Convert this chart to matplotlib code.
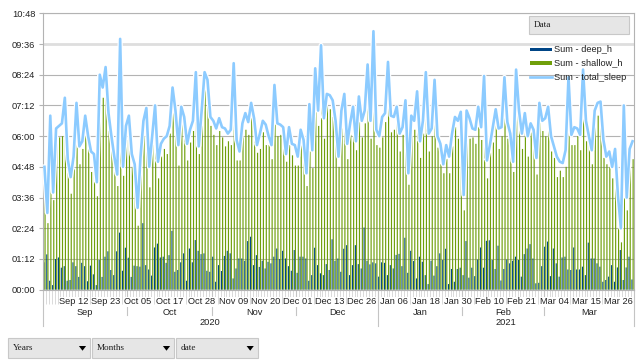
import matplotlib
matplotlib.use("Agg")
import matplotlib.pyplot as plt
import numpy as np
import pandas as pd
from matplotlib.transforms import blended_transform_factory
from matplotlib.patches import Rectangle, Polygon
from matplotlib.lines import Line2D
from matplotlib.collections import LineCollection

# ---------------- data ----------------
start_date = "2020-09-02"
end_date = "2021-03-31"
missing_dates = ["2020-10-01", "2020-10-10", "2020-11-03", "2020-12-07",
                 "2020-12-17", "2020-12-21", "2021-01-12", "2021-01-24"]

deep_h = [
    1.07, 1.38, 0.35, 0.18, 1.2, 1.26, 0.86, 0.92, 0.35, 0.38,
    1.07, 0.92, 0.5, 1.05, 0.92, 0.33, 0.94, 0.6, 0.18, 1.16,
    0.5, 1.29, 1.5, 0.77, 0.57, 1.5, 2.23, 0.74, 1.64, 1.25,
    0.5, 0.94, 0.92, 0.9, 2.6, 0.96, 0.79, 0.55, 1.65, 1.8,
    1.26, 1.29, 1.05, 1.35, 2.3, 0.7, 0.77, 1.07, 1.42, 0.35,
    1.61, 1.07, 1.94, 1.52, 1.39, 1.42, 0.74, 0.7, 1.29, 0.31,
    0.96, 0.73, 1.32, 1.52, 1.42, 0.44, 0.83, 1.22, 1.22, 1.13,
    1.9, 2.07, 0.96, 1.35, 0.89, 1.13, 0.83, 1.09, 1.03, 1.29,
    1.61, 1.2, 1.52, 1.22, 0.92, 0.74, 1.55, 0.66, 1.29, 1.29,
    1.22, 0.35, 0.57, 1.64, 0.96, 0.64, 0.57, 1.0, 0.77, 1.97,
    1.13, 1.22, 0.7, 1.6, 1.74, 0.57, 0.96, 1.74, 1.0, 0.83,
    2.43, 1.13, 0.99, 1.07, 1.03, 0.51, 1.07, 1.05, 0.57, 0.96,
    0.83, 1.36, 1.4, 0.92, 2.03, 0.66, 1.52, 1.12, 0.44, 1.29,
    1.09, 0.57, 0.22, 1.13, 0.55, 0.92, 1.42, 1.16, 1.6, 0.22,
    0.81, 0.31, 0.81, 0.86, 0.57, 1.9, 0.47, 0.86, 0.53, 1.18,
    1.65, 0.86, 1.91, 1.93, 1.16, 0.81, 1.72, 0.36, 0.81, 1.18,
    1.03, 1.13, 1.29, 1.16, 0.51, 1.39, 1.61, 1.78, 1.22, 0.25,
    0.27, 0.92, 1.68, 1.88, 0.53, 1.61, 1.03, 0.51, 1.26, 1.29,
    0.79, 0.77, 1.65, 0.79, 0.79, 0.9, 0.57, 1.84, 1.22, 1.22,
    1.03, 0.9, 0.31, 0.38, 0.51, 0.96, 0.31, 0.87, 1.55, 0.38,
    0.87, 1.29, 0.4,
]

shallow_h = [
    4.3, 2.6, 6.1, 3.5, 5.7, 5.95, 6.0, 6.9, 4.55, 3.75,
    4.7, 6.6, 4.9, 5.5, 6.2, 5.55, 4.6, 4.95, 3.65, 7.6,
    7.5, 7.7, 6.2, 5.7, 4.6, 4.05, 8.2, 4.45, 5.85, 6.15,
    4.8, 4.5, 2.5, 4.9, 6.0, 6.65, 4.0, 5.65, 6.65, 4.35,
    5.2, 5.5, 5.3, 6.1, 7.1, 6.55, 4.85, 6.8, 6.2, 5.05,
    5.75, 6.2, 7.5, 5.3, 6.4, 7.8, 7.4, 6.4, 6.05, 5.65,
    6.2, 5.95, 5.6, 5.8, 5.65, 7.9, 5.05, 5.05, 5.95, 6.25,
    6.05, 6.9, 6.0, 5.35, 5.5, 6.15, 5.65, 5.65, 5.1, 7.2,
    6.0, 6.05, 5.65, 5.0, 5.75, 5.25, 4.85, 4.85, 5.7, 5.2,
    4.05, 6.85, 4.75, 7.8, 6.4, 8.3, 5.9, 7.3, 7.05, 6.75,
    6.1, 4.8, 6.3, 7.35, 5.1, 6.05, 6.35, 5.45, 7.0, 5.95,
    6.5, 7.9, 5.9, 8.6, 5.65, 5.55, 5.95, 6.55, 8.0, 6.15,
    6.25, 6.75, 5.4, 6.05, 6.8, 4.1, 6.0, 6.25, 7.2, 5.15,
    6.1, 7.7, 5.4, 6.0, 7.4, 5.55, 4.9, 4.55, 5.1, 4.55,
    5.6, 6.35, 5.9, 6.65, 3.1, 6.55, 5.9, 5.95, 5.7, 6.5,
    5.85, 7.6, 4.35, 5.35, 5.75, 6.6, 5.5, 6.0, 7.5, 5.9,
    5.6, 4.6, 7.7, 6.7, 5.5, 6.45, 5.2, 6.15, 5.7, 4.5,
    6.8, 6.2, 6.0, 6.85, 5.4, 5.15, 4.4, 4.65, 4.4, 4.8,
    7.5, 5.65, 5.65, 6.0, 5.45, 7.7, 5.8, 5.65, 4.9, 6.35,
    6.8, 6.95, 5.15, 4.9, 4.8, 4.35, 4.7, 3.3, 1.85, 6.5,
    3.1, 5.1, 5.1,
]

total_sleep = [
    4.8, 3.0, 6.8, 3.8, 6.3, 6.4, 6.5, 7.5, 5.1, 4.4,
    5.2, 7.3, 5.6, 5.8, 6.8, 6.0, 5.4, 5.3, 4.2, 8.4,
    7.9, 8.7, 6.9, 6.0, 5.2, 4.5, 9.8, 4.8, 6.4, 6.8,
    5.3, 4.9, 3.2, 5.2, 6.6, 7.1, 4.8, 6.0, 7.2, 5.0,
    5.7, 5.9, 6.0, 6.4, 7.9, 7.0, 5.65, 7.15, 6.75, 5.7,
    6.25, 6.6, 8.5, 5.6, 7.0, 8.5, 8.2, 6.75, 6.6, 6.3,
    6.7, 6.35, 6.3, 6.1, 6.25, 8.85, 5.85, 5.4, 6.5, 6.9,
    6.55, 7.3, 6.7, 5.65, 6.1, 6.6, 6.45, 6.0, 5.65, 8.0,
    6.5, 6.45, 6.35, 5.3, 6.35, 5.7, 5.65, 5.2, 6.25, 5.85,
    4.55, 7.25, 5.45, 8.65, 7.0, 9.55, 6.7, 7.65, 7.6, 7.4,
    6.6, 5.2, 7.0, 7.65, 5.7, 6.5, 7.15, 5.8, 7.55, 6.6,
    7.0, 8.8, 6.6, 10.1, 6.25, 6.0, 6.75, 6.9, 8.9, 6.8,
    6.75, 7.15, 6.1, 6.35, 7.4, 4.55, 6.8, 6.6, 7.75, 5.8,
    6.6, 8.5, 6.1, 6.3, 8.2, 6.0, 5.7, 4.9, 5.65, 5.2,
    6.1, 6.75, 6.6, 6.95, 3.7, 7.0, 6.7, 6.3, 6.25, 7.15,
    6.35, 8.35, 5.05, 5.65, 6.35, 7.05, 6.3, 6.35, 8.3, 6.55,
    6.1, 5.0, 8.6, 7.0, 6.1, 6.9, 6.0, 6.5, 6.25, 5.15,
    7.3, 6.6, 6.7, 7.15, 6.0, 5.6, 5.2, 5.0, 4.95, 5.45,
    8.3, 6.05, 6.35, 6.3, 6.05, 8.6, 6.6, 6.0, 5.45, 7.0,
    7.3, 7.35, 5.85, 5.2, 5.4, 4.8, 5.5, 3.65, 2.4, 7.2,
    3.6, 5.5, 5.8,
]

y_ticks_h = [0, 1.2, 2.4, 3.6, 4.8, 6.0, 7.2, 8.4, 9.6, 10.8]
series_names = ["Sum - deep_h", "Sum - shallow_h", "Sum - total_sleep"]
field_buttons = ["Years", "Months", "date"]
legend_title = "Data"

# ---------------- setup ----------------
SANS = "Liberation Sans"
SERIF = "Liberation Serif"
TXT = "#222222"
DEEP = "#004586"
SHALLOW = "#6f9f0a"
TOTAL = "#8ccbff"
GRID = "#b3b3b3"
FS = 6.7

dates = pd.date_range(start_date, end_date)
dates = dates[~dates.isin(pd.to_datetime(missing_dates))]
n = len(dates)
x = np.arange(n)

W, H = 640, 360
fig = plt.figure(figsize=(W / 100, H / 100), dpi=100)
fig.patch.set_facecolor("white")
L, R, T, B = 43, 634, 13.3, 289.7
ax = fig.add_axes([L / W, 1 - B / H, (R - L) / W, (B - T) / H])


def fy(py):
    return 1 - py / H


def fx(px):
    return px / W


# bars
ax.bar(x - 0.2, deep_h, width=0.38, color=DEEP, linewidth=0, snap=False, zorder=2)
ax.bar(x + 0.2, shallow_h, width=0.4, color=SHALLOW, linewidth=0, snap=False, zorder=2)
# line with white halo
ax.plot(x, total_sleep, color="white", lw=3.6, solid_joinstyle="round", zorder=3)
ax.plot(x, total_sleep, color=TOTAL, lw=1.9, solid_joinstyle="round", zorder=4)

ax.set_xlim(-0.5, n - 0.5)
ax.set_ylim(0, 10.8)
ax.set_yticks(y_ticks_h)
ax.set_yticklabels(["%02d:%02d" % (int(round(v * 60)) // 60, int(round(v * 60)) % 60)
                    for v in y_ticks_h], fontfamily=SANS, fontsize=FS, color=TXT)
ax.tick_params(axis="y", length=3, width=0.8, color=GRID, pad=2.5)
ax.set_xticks([])
ax.set_axisbelow(True)
ax.yaxis.grid(True, color=GRID, lw=0.8)
for gl, v in zip(ax.yaxis.get_gridlines(), y_ticks_h):
    if abs(v - 9.6) < 1e-6:
        gl.set_color("#dedede")
        gl.set_linewidth(2.0)
for s in ax.spines.values():
    s.set_color(GRID)
    s.set_linewidth(0.8)

# ---------------- category axis ----------------
trans = blended_transform_factory(ax.transData, fig.transFigure)
segs = [[(i - 0.5, fy(B)), (i - 0.5, fy(304))] for i in range(n + 1)]
lc = LineCollection(segs, transform=trans, colors="#cccccc", linewidths=0.5)
lc.set_clip_on(False)
ax.add_collection(lc, autolim=False)

for i in range(10, n, 11):
    ax.text(i, fy(301.7), dates[i].strftime("%b %d"), transform=trans,
            ha="center", va="center", fontsize=FS, fontfamily=SANS, color=TXT,
            bbox=dict(facecolor="white", edgecolor="none", pad=0.3),
            clip_on=False, zorder=6)

month_key = dates.year * 100 + dates.month
months = []
for k in pd.unique(month_key):
    idx = np.where(month_key == k)[0]
    months.append((idx[0], idx[-1], dates[idx[0]]))
for s0, s1, d in months:
    ax.text((s0 + s1) / 2, fy(312.3), d.strftime("%b"), transform=trans,
            ha="center", va="center", fontsize=FS, fontfamily=SANS, color=TXT,
            clip_on=False)
for j in range(len(months) - 1):
    bx = months[j][1] + 0.5
    yr_change = months[j][2].year != months[j + 1][2].year
    ax.add_line(Line2D([bx, bx], [fy(B), fy(326 if yr_change else 315)],
                       transform=trans, color="#c4c4c4", lw=0.8, clip_on=False))
for bx in (-0.5, n - 0.5):
    ax.add_line(Line2D([bx, bx], [fy(B), fy(326)], transform=trans,
                       color="#c4c4c4", lw=0.8, clip_on=False))

years = dates.year
for yv in pd.unique(years):
    idx = np.where(years == yv)[0]
    ax.text((idx[0] + idx[-1]) / 2, fy(322.7), str(yv), transform=trans,
            ha="center", va="center", fontsize=FS, fontfamily=SANS, color=TXT,
            clip_on=False)


# ---------------- buttons ----------------
def button(x0, x1, y0, y1, label, arrow=True):
    fig.add_artist(Rectangle((fx(x0), fy(y1)), fx(x1) - fx(x0), fy(y0) - fy(y1),
                             transform=fig.transFigure, facecolor="#e6e6e6",
                             edgecolor="#c8c8c8", linewidth=0.8))
    yc = (y0 + y1) / 2
    fig.text(fx(x0 + 4.5), fy(yc), label, fontfamily=SERIF, fontsize=6.6,
             color="#1a1a1a", ha="left", va="center")
    if arrow:
        cx = x1 - 7.5
        fig.add_artist(Polygon([(fx(cx - 3.6), fy(yc - 2.3)), (fx(cx + 3.6), fy(yc - 2.3)),
                                (fx(cx), fy(yc + 2.4))], closed=True,
                               transform=fig.transFigure, facecolor="black",
                               edgecolor="none"))


btn_x = [(8, 90), (92.3, 174), (176, 257.7)]
for (bx0, bx1), lab in zip(btn_x, field_buttons):
    button(bx0, bx1, 338.3, 358.3, lab)

# legend
button(529, 629, 16, 34, legend_title, arrow=False)
leg_y = [49.2, 62.7, 77.2]
fig.add_artist(Rectangle((fx(530), fy(51)), fx(551.7) - fx(530), fy(47.5) - fy(51),
                         transform=fig.transFigure, facecolor=DEEP, edgecolor="none"))
fig.add_artist(Rectangle((fx(530), fy(64.5)), fx(551.7) - fx(530), fy(61) - fy(64.5),
                         transform=fig.transFigure, facecolor=SHALLOW, edgecolor="none"))
fig.add_artist(Line2D([fx(530), fx(551.7)], [fy(77.3), fy(77.3)],
                      transform=fig.transFigure, color=TOTAL, lw=1.9))
for yy, name in zip(leg_y, series_names):
    fig.text(fx(554), fy(yy), name, fontfamily=SANS, fontsize=FS, color=TXT,
             ha="left", va="center")

fig.savefig("out.png", dpi=100, facecolor="white")
